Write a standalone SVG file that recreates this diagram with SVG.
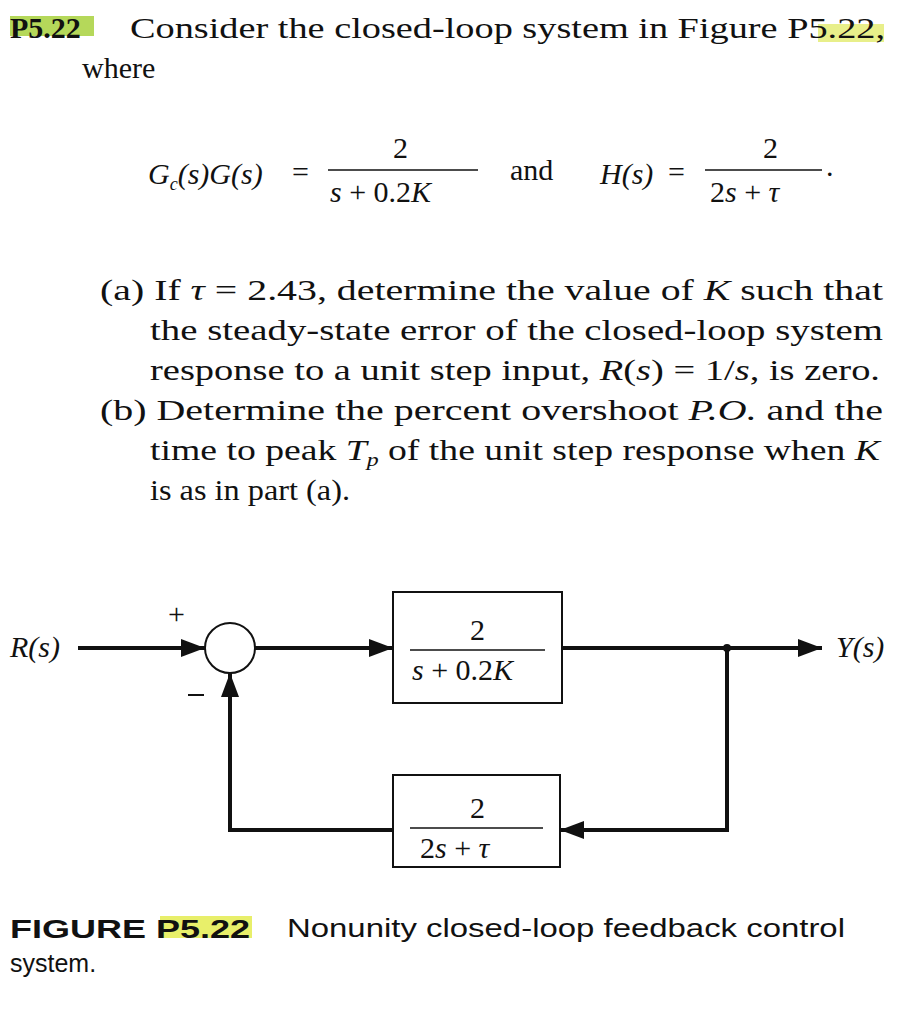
<svg xmlns="http://www.w3.org/2000/svg" width="904" height="1014" viewBox="0 0 904 1014">
<style>
.t{font-family:"Liberation Serif",serif;font-size:30px;fill:#111}
.i{font-style:italic}
.s{font-family:"Liberation Sans",sans-serif;font-size:25px;fill:#111}
.ln{stroke:#111;stroke-width:4;fill:none}
.fr{stroke:#111;stroke-width:1.5}
</style>
<defs>
<marker id="b" markerWidth="24" markerHeight="18" refX="24" refY="9" orient="auto" markerUnits="userSpaceOnUse"><path d="M0,0L24,9L0,18z" fill="#111"/></marker></defs>
<rect width="904" height="1014" fill="#fff"/>
<g id="text">
<rect x="10" y="16" width="84" height="20" fill="#b5d85a"/>
<text class="t" x="10" y="38" font-weight="bold" font-size="26">P5.22</text>
<rect x="818" y="24" width="66" height="18" fill="#e8ef8a"/>
<text class="t" x="130" y="38" textLength="755" lengthAdjust="spacingAndGlyphs">Consider the closed-loop system in Figure P5.22,</text>
<text class="t" x="82" y="78">where</text>
<text class="t i" x="148" y="184" font-size="32">G<tspan font-size="18" dy="6">c</tspan><tspan dy="-6">(s)G(s)</tspan></text>
<text class="t" x="292" y="182">=</text>
<text class="t" x="393" y="158">2</text>
<line class="fr" x1="328" y1="170" x2="478" y2="170"/>
<text class="t" x="330" y="202"><tspan class="i">s</tspan> + 0.2<tspan class="i">K</tspan></text>
<text class="t" x="510" y="180">and</text>
<text class="t i" x="600" y="184" font-size="32">H(s)</text>
<text class="t" x="668" y="182">=</text>
<text class="t" x="763" y="158">2</text>
<line class="fr" x1="705" y1="170" x2="822" y2="170"/>
<text class="t" x="710" y="202">2<tspan class="i">s</tspan> + <tspan class="i">τ</tspan></text>
<text class="t" x="826" y="176">.</text>
<text class="t" x="100" y="300" textLength="783" lengthAdjust="spacingAndGlyphs">(a) If <tspan class="i">τ</tspan> = 2.43, determine the value of <tspan class="i">K</tspan> such that</text>
<text class="t" x="150" y="340" textLength="733" lengthAdjust="spacingAndGlyphs">the steady-state error of the closed-loop system</text>
<text class="t" x="150" y="380" textLength="730" lengthAdjust="spacingAndGlyphs">response to a unit step input, <tspan class="i">R</tspan>(<tspan class="i">s</tspan>) = 1/<tspan class="i">s</tspan>, is zero.</text>
<text class="t" x="100" y="420" textLength="783" lengthAdjust="spacingAndGlyphs">(b) Determine the percent overshoot <tspan class="i">P.O.</tspan> and the</text>
<text class="t" x="150" y="460" textLength="730" lengthAdjust="spacingAndGlyphs">time to peak <tspan class="i">T<tspan font-size="19" dy="6">p</tspan></tspan><tspan dy="-6"> of the unit step response when </tspan><tspan class="i">K</tspan></text>
<text class="t" x="150" y="500" textLength="200" lengthAdjust="spacingAndGlyphs">is as in part (a).</text>
<rect x="160" y="916" width="92" height="22" fill="#e8ef6a"/>
<text class="s" x="10" y="938" font-weight="bold" font-size="27" textLength="240" lengthAdjust="spacingAndGlyphs">FIGURE P5.22</text>
<text class="s" x="287" y="937" textLength="558" lengthAdjust="spacingAndGlyphs">Nonunity closed-loop feedback control</text>
<text class="s" x="10" y="972">system.</text>
</g>
<g id="connectors">
<line class="ln" x1="78" y1="648" x2="205" y2="648" marker-end="url(#b)"/>
<line class="ln" x1="255" y1="648" x2="393" y2="648" marker-end="url(#b)"/>
<line class="ln" x1="562" y1="648" x2="822" y2="648" marker-end="url(#b)"/>
<polyline class="ln" points="727,648 727,830 560,830" marker-end="url(#b)"/>
<polyline class="ln" points="393,830 230,830 230,673" marker-end="url(#b)"/>
<circle cx="727" cy="648" r="4" fill="#111"/>
</g>
<g id="labels">
<text class="t i" x="10" y="657" font-size="27">R(s)</text>
<text class="t i" x="836" y="657" font-size="23">Y(s)</text>
<text class="t" x="168" y="624" font-size="26">+</text>
<line x1="188" y1="695" x2="204" y2="695" stroke="#111" stroke-width="2"/>
</g>
<g id="sum"><circle cx="230" cy="648" r="25" fill="#fff" stroke="#111" stroke-width="2"/></g>
<g id="G">
<rect x="393" y="592" width="169" height="111" fill="#fff" stroke="#111" stroke-width="2"/>
<text class="t" x="470" y="640" font-size="27">2</text>
<line class="fr" x1="410" y1="650" x2="545" y2="650"/>
<text class="t" x="412" y="680" font-size="27"><tspan class="i">s</tspan> + 0.2<tspan class="i">K</tspan></text>
</g>
<g id="H">
<rect x="393" y="775" width="167" height="92" fill="#fff" stroke="#111" stroke-width="2"/>
<text class="t" x="470" y="818" font-size="27">2</text>
<line class="fr" x1="410" y1="828" x2="543" y2="828"/>
<text class="t" x="420" y="858" font-size="27">2<tspan class="i">s</tspan> + <tspan class="i">τ</tspan></text>
</g>
</svg>
